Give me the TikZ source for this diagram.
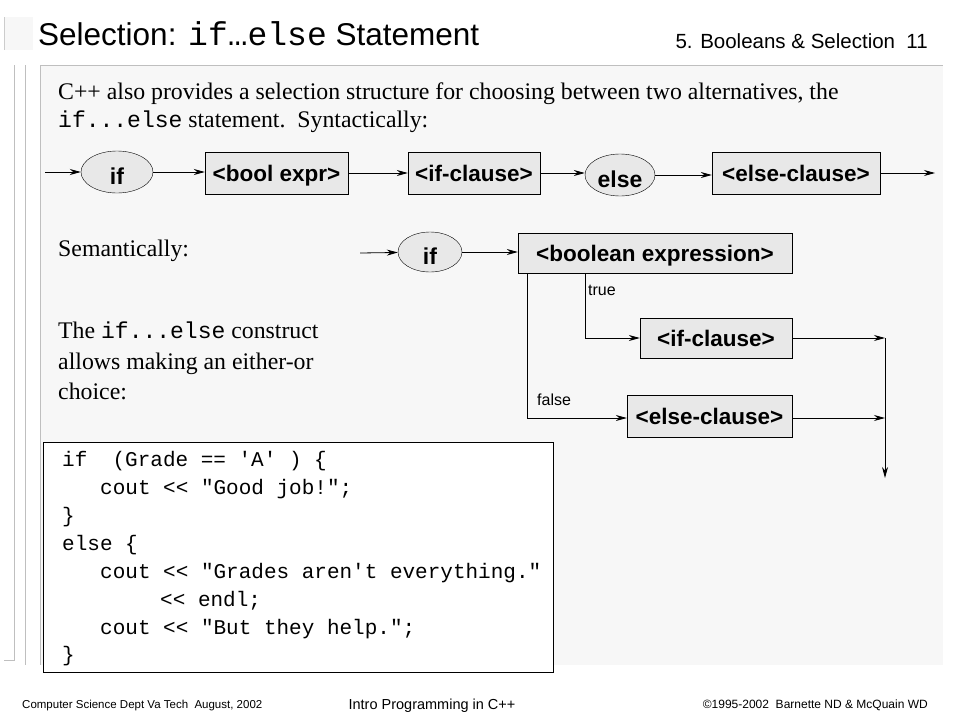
\documentclass[tikz,border=0pt]{standalone}
\usepackage{fontspec}
\setmainfont{Liberation Serif}
\setsansfont{Liberation Sans}
\setmonofont{Liberation Mono}
\usetikzlibrary{shapes.geometric,arrows.meta}
\definecolor{panel}{HTML}{F7F7F7}
\definecolor{boxfill}{HTML}{E8E8E8}
\newcommand{\dn}[1]{\lower4pt\hbox{#1}}
\begin{document}
\begin{tikzpicture}[x=1pt,y=-1pt,
  kw/.style={ellipse,draw,fill=boxfill,font=\sffamily\bfseries\fontsize{23}{25}\selectfont,inner sep=0pt,text height=16pt,text depth=0pt},
  term/.style={rectangle,draw,fill=boxfill,font=\sffamily\bfseries\fontsize{22.5}{25}\selectfont,inner sep=0pt,text height=16pt,text depth=0pt},
  arr/.style={-{Stealth[length=11pt,width=6pt,inset=3.5pt]},line width=0.8pt},
  body/.style={font=\fontsize{23.8}{26}\selectfont,anchor=base west,inner sep=0pt},
  code/.style={font=\ttfamily\fontsize{21}{22}\selectfont,anchor=base west,inner sep=0pt}]
\useasboundingbox (0,0) rectangle (960,720);
\fill[white] (0,0) rectangle (960,720);
% decorations
\fill[panel] (4,17) rectangle (33,50);
\draw[gray!40] (4,17) -- (4,50);
\draw[gray!50] (14,65) -- (14,660) -- (4,660);
\draw[gray!50] (25,65) -- (25,665);
\fill[panel] (40,65) rectangle (943,665);
\draw[gray!50] (40,65) -- (943,65);
\draw[gray!50] (40,65) -- (40,665);
% title
\node[font=\sffamily\fontsize{31.5}{33}\selectfont,anchor=base west,inner sep=0pt] (title) at (38,45) {Selection: {\ttfamily\fontsize{33}{33}\selectfont if…else} Statement};
\node[font=\sffamily\fontsize{20.5}{22}\selectfont,anchor=base east,inner sep=0pt] (chap) at (928,48) {5. Booleans \& Selection\ \ 11};
% paragraph
\node[body] (p1) at (58,99) {C++ also provides a selection structure for choosing between two alternatives, the};
\node[body] (p2) at (58,127) {{\ttfamily\fontsize{23}{24}\selectfont if...else} statement.\ \ Syntactically:};
% syntax row
\coordinate (s0) at (45,172);
\node[kw,minimum width=72pt,minimum height=42pt] (if1) at (117,172) {\dn{if}};
\node[term,minimum width=143pt,minimum height=42pt] (be) at (276.5,173) {<bool expr>};
\node[term,minimum width=132pt,minimum height=42pt] (ic) at (474,173) {<if-clause>};
\node[kw,minimum width=70pt,minimum height=42pt] (el) at (620,175) {\dn{else}};
\node[term,minimum width=168pt,minimum height=42pt] (ec) at (796,173) {<else-clause>};
\coordinate (s9) at (935,172);
\draw[arr] (s0) -- (if1);
\draw[arr] (if1.east) -- (be.west |- if1.east);
\draw[arr] (be.east) -- (ic.west);
\draw[arr] (ic.east) -- (el.west |- ic.east);
\draw[arr] (el.east) -- (ec.west |- el.east);
\draw[arr] (ec.east) -- (s9 |- ec.east);
% semantics
\node[body] (sem) at (58,256) {Semantically:};
\coordinate (t0) at (360,253);
\node[kw,minimum width=64pt,minimum height=40pt] (if2) at (430,252) {\dn{if}};
\node[term,minimum width=274pt,minimum height=40pt] (bx) at (655,253) {<boolean expression>};
\draw[arr] (t0) -- (if2);
\draw[arr] (if2.east) -- (bx.west |- if2.east);
\node[term,minimum width=152pt,minimum height=40pt] (ic2) at (716,338) {<if-clause>};
\node[term,minimum width=165pt,minimum height=42pt] (ec2) at (709.5,416) {<else-clause>};
\coordinate (j1) at (885,338);
\coordinate (j2) at (885,418);
\coordinate (jend) at (885,478);
\draw[arr] (bx.south -| 585,0) -- (585,338) -- (ic2.west);
\draw[arr] (bx.south -| 527,0) -- (527,418) -- (ec2.west |- 0,418);
\draw[arr] (ic2.east) -- (j1);
\draw[arr] (ec2.east |- j2) -- (j2);
\draw[arr] (j1) -- (jend);
\node[font=\sffamily\fontsize{16}{18}\selectfont,anchor=base west,inner sep=0pt] (tl) at (588,295) {true};
\node[font=\sffamily\fontsize{16}{18}\selectfont,anchor=base west,inner sep=0pt] (fl) at (537,405) {false};
% construct text
\node[body] (c1) at (58,338) {The {\ttfamily\fontsize{23}{24}\selectfont if...else} construct};
\node[body] (c2) at (58,369) {allows making an either-or};
\node[body] (c3) at (58,399) {choice:};
% code box
\draw[fill=white,line width=0.8pt] (43,442) rectangle (553,672);
\node[code] (k1) at (62,466) {if\ \ (Grade == 'A' ) \{};
\node[code] (k2) at (100,494) {cout << "Good job!";};
\node[code] (k3) at (62,522) {\}};
\node[code] (k4) at (62,550) {else \{};
\node[code] (k5) at (100,578) {cout << "Grades aren't everything."};
\node[code] (k6) at (160,606) {<< endl;};
\node[code] (k7) at (100,634) {cout << "But they help.";};
\node[code] (k8) at (62,661) {\}};
% footer
\node[font=\sffamily\fontsize{11.5}{13}\selectfont,anchor=base west,inner sep=0pt] (f1) at (22,708) {Computer Science Dept Va Tech\ \ August, 2002};
\node[font=\sffamily\fontsize{14.5}{16}\selectfont,anchor=base,inner sep=0pt] (f2) at (432,709) {Intro Programming in C++};
\node[font=\sffamily\fontsize{12}{14}\selectfont,anchor=base east,inner sep=0pt] (f3) at (928,708) {©1995-2002\ \ Barnette ND \& McQuain WD};
\end{tikzpicture}
\end{document}
